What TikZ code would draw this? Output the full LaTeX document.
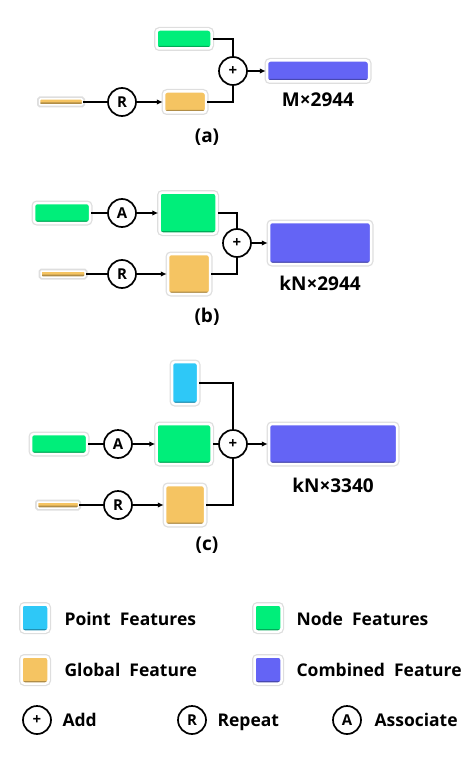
\documentclass[tikz,border=0pt]{standalone}
\usepackage{fontspec}
\setmainfont{Open Sans}
\usetikzlibrary{arrows.meta}
\definecolor{ptblue}{HTML}{2EC8F7}
\definecolor{ndgreen}{HTML}{00EE7A}
\definecolor{glyellow}{HTML}{F5C462}
\definecolor{cbpurple}{HTML}{6464F5}
\tikzset{
	feat/.style={rounded corners=3pt, draw=white, line width=2.5pt, fill=#1, inner sep=0pt,
		preaction={draw=black!13, line width=5pt},
		path picture={\fill[#1!72!black] ([yshift=2.5pt]path picture bounding box.south west) rectangle (path picture bounding box.south east);}},
	thinbar/.style={feat=glyellow, rounded corners=1pt, line width=1.5pt, minimum height=6pt},
	op/.style={circle, draw=black, line width=1.7pt, fill=white, minimum size=28pt, inner sep=0pt, font=\bfseries\fontsize{15}{15}\selectfont},
	link/.style={line width=1.6pt},
	flow/.style={link, -{Latex[length=6pt,width=5.5pt]}},
	lbl/.style={font=\bfseries\fontsize{19}{19}\selectfont},
	lgd/.style={anchor=west, text height=14pt, text depth=2pt, font=\bfseries\fontsize{17.5}{17.5}\selectfont}
}
\begin{document}
\begin{tikzpicture}[x=1pt,y=-1pt]
	\useasboundingbox (0,0) rectangle (474,770);
	% (a)
	\node[feat=ndgreen, minimum width=55pt, minimum height=19pt] (na) at (184,39) {};
	\node[thinbar, minimum width=43pt] (ga0) at (61,102) {};
	\node[op] (ra) at (122,102) {R};
	\node[feat=glyellow, minimum width=42pt, minimum height=21pt] (ga) at (185,102) {};
	\node[op] (sa) at (233,71) {+};
	\node[feat=cbpurple, minimum width=102pt, minimum height=21pt] (ca) at (318,71) {};
	\node[lbl] (ta) at (318,100) {M×2944};
	\node[lbl] (capa) at (207,137) {(a)};
	\draw[link] (na.east) -| (sa.north);
	\draw[link] (ga.east) -| (sa.south);
	\draw[flow] (sa) -- (ca);
	\draw[link] (ga0) -- (ra);
	\draw[flow] (ra) -- (ga);
	% (b)
	\node[feat=ndgreen, minimum width=56pt, minimum height=20pt] (nb0) at (62,213) {};
	\node[op] (ab) at (122,213) {A};
	\node[feat=ndgreen, minimum width=57pt, minimum height=41pt] (nb) at (188,213) {};
	\node[thinbar, minimum width=44pt] (gb0) at (63,274) {};
	\node[op] (rb) at (122,274) {R};
	\node[feat=glyellow, minimum width=42pt, minimum height=40pt] (gb) at (189,274) {};
	\node[op] (sb) at (237,243) {+};
	\node[feat=cbpurple, minimum width=102pt, minimum height=42pt] (cb) at (320,243) {};
	\node[lbl] (tb) at (320,283) {kN×2944};
	\node[lbl] (capb) at (207,317) {(b)};
	\draw[link] (nb0) -- (ab);
	\draw[flow] (ab) -- (nb);
	\draw[link] (gb0) -- (rb);
	\draw[flow] (rb) -- (gb);
	\draw[link] (nb.east) -| (sb.north);
	\draw[link] (gb.east) -| (sb.south);
	\draw[flow] (sb) -- (cb);
	% (c)
	\node[feat=ptblue, minimum width=26pt, minimum height=42pt] (pc) at (185,383) {};
	\node[feat=ndgreen, minimum width=56pt, minimum height=20pt] (nc0) at (59,444) {};
	\node[op] (ac) at (118,444) {A};
	\node[feat=ndgreen, minimum width=55pt, minimum height=40pt] (nc) at (184,444) {};
	\node[op] (sc) at (233,444) {+};
	\node[feat=cbpurple, minimum width=128pt, minimum height=40pt] (cc) at (333,444) {};
	\node[lbl] (tc) at (333,485) {kN×3340};
	\node[thinbar, minimum width=41pt] (gc0) at (58,505) {};
	\node[op] (rc) at (118,505) {R};
	\node[feat=glyellow, minimum width=40pt, minimum height=40pt] (gc) at (185,505) {};
	\node[lbl] (capc) at (207,545) {(c)};
	\draw[link] (pc.east) -| (sc.north);
	\draw[link] (nc) -- (sc);
	\draw[link] (gc.east) -| (sc.south);
	\draw[flow] (sc) -- (cc);
	\draw[link] (nc0) -- (ac);
	\draw[flow] (ac) -- (nc);
	\draw[link] (gc0) -- (rc);
	\draw[flow] (rc) -- (gc);
	% legend
	\node[feat=ptblue, minimum size=27pt] (kp) at (35,618) {};
	\node[lgd] (lp) at (61,619) {Point\ \ Features};
	\node[feat=ndgreen, minimum size=27pt] (kn) at (268,618) {};
	\node[lgd] (ln) at (293,619) {Node\ \ Features};
	\node[feat=glyellow, minimum size=27pt] (kg) at (35,670) {};
	\node[lgd] (lg) at (61,670) {Global\ \ Feature};
	\node[feat=cbpurple, minimum size=27pt] (kc) at (268,670) {};
	\node[lgd] (lc) at (293,670) {Combined\ \ Feature};
	\node[op] (ks) at (37,720) {+};
	\node[lgd] (ls) at (59,720) {Add};
	\node[op] (kr) at (192,720) {R};
	\node[lgd] (lr) at (214,720) {Repeat};
	\node[op] (ka) at (347,720) {A};
	\node[lgd] (la) at (371,720) {Associate};
\end{tikzpicture}
\end{document}
